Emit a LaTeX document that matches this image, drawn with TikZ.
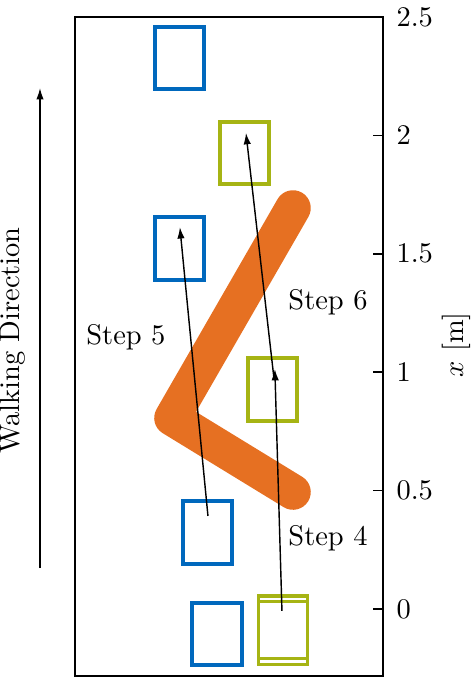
\documentclass[tikz,border=0pt]{standalone}
\usepackage{amsmath}
\usepackage{xcolor}
\usepackage{tikz}
\usetikzlibrary{positioning, calc, arrows.meta}
\definecolor{footblue}{RGB}{0, 104, 189}
\definecolor{footgreen}{RGB}{166, 180, 20}
\definecolor{comorange}{RGB}{230, 112, 34}

\begin{document}
\begin{tikzpicture}[x=2.925cm, y=2.925cm,
    leftfoot/.style={rectangle, draw=footblue, line width=1.4pt, minimum width=0.61cm, minimum height=0.77cm, inner sep=0pt},
    rightfoot/.style={leftfoot, draw=footgreen},
    steparrow/.style={-{Latex[length=4pt, width=2.6pt]}, line width=0.5pt},
    steplabel/.style={font=\normalsize, inner sep=0pt}]
    \useasboundingbox (-0.3167,-0.2914) rectangle (1.685,2.5718);

    % Rahmen und Achse rechts
    \draw[line width=0.5pt] (0,-0.283) rectangle (1.3007,2.5);
    \foreach \v/\t in {0/0, 0.5/0.5, 1/1, 1.5/1.5, 2/2, 2.5/2.5} {
        \draw[line width=0.5pt] (1.3007,\v) -- (1.258,\v);
        \node[anchor=west, inner sep=0pt] (tick\t) at (1.3556,\v) {$\t$};
    }
    \node[rotate=90, inner sep=0pt] (ylab) at (1.609,1.115) {$x$ [m]};

    % Schwerpunkt
    \draw[comorange, line width=12.5pt, line cap=round, line join=round]
        (0.9206,1.6934) -- (0.4096,0.8066) -- (0.9206,0.494);

    % Fussabdruecke
    \node[leftfoot] (b1) at (0.441,2.327) {};
    \node[leftfoot] (b2) at (0.441,1.5225) {};
    \node[leftfoot] (b3) at (0.5595,0.323) {};
    \node[leftfoot] (b4) at (0.5995,-0.1055) {};
    \node[rightfoot] (g1) at (0.716,1.9255) {};
    \node[rightfoot] (g2) at (0.834,0.9265) {};
    \node[rightfoot, line width=1.1pt] (g3a) at (0.878,-0.0770) {};
    \node[rightfoot, line width=1.1pt] (g3b) at (0.878,-0.1010) {};

    % Schritte
    \draw[steparrow] ($(g3b)+(-0.004,0.093)$) -- ($(g2)+(0.01,0.087)$);
    \draw[steparrow] ($(b3)+(0.002,0.07)$) -- ($(b2)+(0.002,0.09)$);
    \draw[steparrow] ($(g2)+(0.006,0.05)$) -- ($(g1)+(0.006,0.085)$);

    \node[steplabel] (s5) at (0.215,1.1486) {Step 5};
    \node[steplabel] (s6) at (1.0684,1.2965) {Step 6};
    \node[steplabel] (s4) at (1.0684,0.2998) {Step 4};

    % Gehrichtung
    \coordinate (wd0) at (-0.1478,0.173);
    \coordinate (wd1) at (-0.1478,2.200);
    \draw[steparrow] (wd0) -- (wd1);
    \node[rotate=90, inner sep=0pt] (wdlab) at (-0.262,1.134) {Walking Direction};
\end{tikzpicture}
\end{document}
